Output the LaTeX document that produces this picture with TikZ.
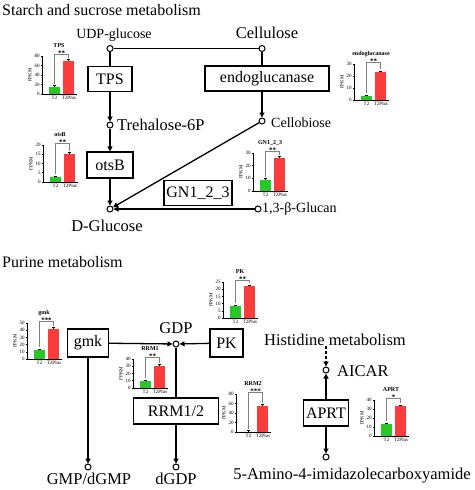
\documentclass[tikz,border=0pt]{standalone}
\usepackage{fontspec}
\setmainfont{Liberation Serif}
\usetikzlibrary{arrows.meta}

\definecolor{bargreen}{RGB}{40,200,40}
\definecolor{barred}{RGB}{250,60,60}

\tikzset{
  sectitle/.style={inner sep=0pt, anchor=west, font=\fontsize{16}{19}\selectfont},
  box/.style={draw, line width=1.3pt, inner sep=0pt, font=\fontsize{16}{19}\selectfont},
  met/.style={inner sep=0pt, font=\fontsize{14}{17}\selectfont},
  bigmet/.style={inner sep=0pt, font=\fontsize{16.5}{19}\selectfont},
  cpd/.style={circle, draw, line width=1pt, fill=white, minimum size=6pt, inner sep=0pt},
  link/.style={line width=1.3pt},
  flow/.style={line width=1.3pt, -{Triangle[length=5pt,width=5pt]}},
  axisline/.style={line width=0.6pt},
  ticklab/.style={inner sep=0.5pt, font=\fontsize{5}{6}\selectfont},
  starlab/.style={inner sep=0pt, font=\fontsize{7}{7}\selectfont\bfseries},
  charttitle/.style={inner sep=0pt, font=\fontsize{6}{7}\selectfont\bfseries},
}

% small FPKM chart: axis x, baseline y, height, ymax, step, T2, T2Plus, title, stars
\newcommand{\fpkmplot}[9]{%
  \begin{scope}[shift={(#1,#2)}]
    \pgfmathsetmacro\gh{#6*#3/#4}
    \pgfmathsetmacro\rh{#7*#3/#4}
    \pgfmathsetmacro\bk{max(\rh+6,#3+2)}
    \fill[bargreen] (7,0) rectangle (18,-\gh);
    \fill[barred] (21,0) rectangle (32,-\rh);
    \draw[axisline] (12.5,-\gh) -- (12.5,-\gh-1.5) (11,-\gh-1.5) -- (14,-\gh-1.5);
    \draw[axisline] (26.5,-\rh) -- (26.5,-\rh-1.5) (25,-\rh-1.5) -- (28,-\rh-1.5);
    \draw[axisline] (0,-#3) -- (0,0) -- (35,0);
    \foreach \t in {0,#5,...,#4} {
      \draw[axisline] (0,-\t*#3/#4) -- (-1.5,-\t*#3/#4) node[left, ticklab] {\t};
    }
    \node[ticklab, below] at (12.5,1) {T2};
    \node[ticklab, below] at (27,1) {T2Plus};
    \node[ticklab, rotate=90] at (-12,-#3/2) {FPKM};
    \draw[axisline, gray] (12.5,-\gh-3) -- (12.5,-\bk) -- (26.5,-\bk) -- (26.5,-\rh-3);
    \node[starlab, above] at (19.5,-\bk+2) {#9};
    \node[charttitle] at (17,-\bk-8) {#8};
  \end{scope}}

\begin{document}
\begin{tikzpicture}[x=1pt,y=-1pt]
\useasboundingbox (0,0) rectangle (474,490);

% Text Node
\node[sectitle] (starch) at (2,10) {Starch and sucrose metabolism};
% Text Node
\node[sectitle] (purine) at (2,262) {Purine metabolism};

%Shape: Rectangle
\node[box, minimum width=44pt, minimum height=25pt] (tps) at (110,79) {TPS};
%Shape: Rectangle
\node[box, minimum width=124pt, minimum height=25pt] (endo) at (267,78.5) {endoglucanase};
%Shape: Rectangle
\node[box, minimum width=46pt, minimum height=26pt] (otsb) at (110,165) {otsB};
%Shape: Rectangle
\node[box, minimum width=68pt, minimum height=25pt] (gn) at (198,193) {GN1\_2\_3};

% compounds
\node[cpd] (udpc) at (110,48.5) {};
\node[cpd] (cellc) at (262,48.5) {};
\node[cpd] (trec) at (110,125) {};
\node[cpd] (cbc) at (262,121) {};
\node[cpd] (glcc) at (110,209) {};
\node[cpd] (btgc) at (258,209) {};

% Text Node
\node[met] (udp) at (114,35) {UDP-glucose};
\node[bigmet] (cell) at (267,33) {Cellulose};
\node[bigmet, anchor=west] (tre) at (117,125) {Trehalose-6P};
\node[met, anchor=west] (cb) at (271,123) {Cellobiose};
\node[bigmet] (glc) at (107,226) {D-Glucose};
\node[met, anchor=west] (btg) at (262,209) {1,3-β-Glucan};

\draw[link] (udpc) -- (cellc);
\draw[link] (udpc) -- (tps);
\draw[flow] (tps) -- (trec);
\draw[flow] (trec) -- (otsb);
\draw[flow] (otsb) -- (glcc);
\draw[link] (cellc) -- (cellc |- endo.north);
\draw[flow] (cellc |- endo.south) -- (cbc);
\draw[flow] (cbc) -- (glcc);
\draw[flow] (btgc) -- (glcc);

%Shape: Rectangle
\node[box, minimum width=41pt, minimum height=28pt] (gmk) at (88,343) {gmk};
%Shape: Rectangle
\node[box, minimum width=33pt, minimum height=28pt] (pk) at (226.5,343) {PK};
%Shape: Rectangle
\node[box, minimum width=85pt, minimum height=26pt] (rrm) at (176,411) {RRM1/2};
%Shape: Rectangle
\node[box, minimum width=45pt, minimum height=26pt] (aprt) at (326,413) {APRT};

% compounds
\node[cpd] (gdpc) at (176,344) {};
\node[cpd] (gmpc) at (88,467) {};
\node[cpd] (dgdpc) at (176,467) {};
\node[cpd] (aicarc) at (326,370) {};
\node[cpd] (aminoc) at (326,457) {};

% Text Node
\node[bigmet] (gdp) at (176,328) {GDP};
\node[bigmet] (gmp) at (89,479) {GMP/dGMP};
\node[bigmet] (dgdp) at (176,479) {dGDP};
\node[bigmet] (hist) at (335,340) {Histidine metabolism};
\node[bigmet, anchor=west] (aicar) at (337,371) {AICAR};
\node[bigmet] (amino) at (352,476) {5-Amino-4-imidazolecarboxyamide};

\draw[flow] (gmk) -- (gdpc);
\draw[flow] (pk) -- (gdpc);
\draw[link] (gdpc) -- (rrm);
\draw[flow] (rrm) -- (dgdpc);
\draw[flow] (gmk) -- (gmpc);
\draw[flow, dash pattern=on 3pt off 2pt] (hist.south -| aicarc) -- (aicarc);
\draw[flow] (aprt) -- (aicarc);
\draw[flow] (aprt) -- (aminoc);

% FPKM charts
\fpkmplot{42}{94}{38}{80}{20}{15}{70}{TPS}{**}
\fpkmplot{354}{100}{36}{30}{10}{3}{23}{endoglucanase}{**}
\fpkmplot{43}{182}{37}{20}{5}{2.5}{15}{otsB}{**}
\fpkmplot{253}{191}{38}{30}{10}{9}{26}{GN1\_2\_3}{**}
\fpkmplot{27}{359}{36}{50}{10}{12}{42}{gmk}{***}
\fpkmplot{223}{318}{36}{25}{5}{8}{22}{PK}{**}
\fpkmplot{133}{388}{29}{40}{10}{9}{30}{RRM1}{**}
\fpkmplot{236}{432}{38}{80}{20}{1}{55}{RRM2}{***}
\fpkmplot{374}{436}{36}{40}{10}{13}{33}{APRT}{*}

\end{tikzpicture}
\end{document}
